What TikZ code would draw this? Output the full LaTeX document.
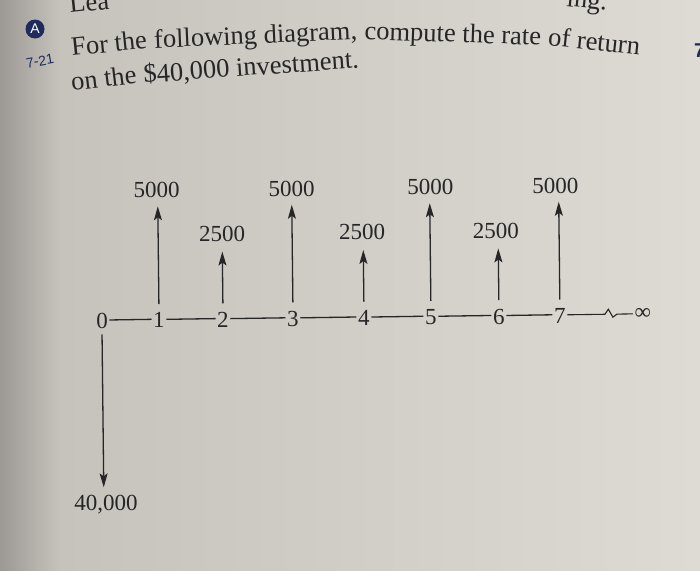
\documentclass[tikz,border=0pt]{standalone}
\usepackage{fontspec}
\setmainfont{Liberation Serif}
\setsansfont{Liberation Sans}
\usetikzlibrary{arrows.meta}
\definecolor{ink}{HTML}{262626}
\definecolor{navy}{HTML}{1E2B5C}
\definecolor{paperL}{HTML}{9C9994}
\definecolor{paperM}{HTML}{C6C2BC}
\definecolor{paperR}{HTML}{DEDAD4}
\tikzset{
  titletext/.style={font=\fontsize{26.5}{30}\selectfont, text=ink, inner sep=0pt, anchor=base west},
  dig/.style={font=\fontsize{23}{26}\selectfont, text=ink, inner sep=1.5pt},
  amt/.style={font=\fontsize{23}{26}\selectfont, text=ink, inner sep=0pt},
  flow/.style={draw=ink, line width=1.3pt, -{Stealth[length=14pt,width=8pt,inset=3pt]}, shorten <=7pt, shorten >=8pt},
  axisline/.style={draw=ink, line width=1.3pt},
}
\begin{document}
\begin{tikzpicture}[x=1pt,y=-1pt]
\useasboundingbox (0,0) rectangle (700,570);
\clip (0,0) rectangle (700,570);
% page background
\shade[left color=paperL, right color=paperM] (0,0) rectangle (60,570);
\shade[left color=paperM, right color=paperR] (60,0) rectangle (700,570);

% cut-off text at the top
\node[titletext, rotate=6] (t0) at (70,13) {Lea};
\node[titletext, rotate=-6] (t0b) at (566,6) {ing.};
\node[font=\sffamily\bfseries\fontsize{20}{24}\selectfont, text=navy, anchor=base west, inner sep=0pt] (pn) at (694,57) {7};

% badge and problem number
\node[circle, fill=navy, text=white, minimum size=19pt, inner sep=0pt, font=\sffamily\fontsize{14}{14}\selectfont] (badge) at (35,29) {A};
\node[text=navy, font=\sffamily\fontsize{14}{14}\selectfont, rotate=10, inner sep=0pt] (prob) at (40,61) {7-21};

% problem statement
\node[titletext, rotate=6] (t1) at (72,56) {For the};
\node[titletext, rotate=2.5] (t2) at ([xshift=6.5pt]t1.base east) {following diagram,};
\node[titletext, rotate=-2] (t3) at ([xshift=6.5pt]t2.base east) {compute the rate};
\node[titletext, rotate=-6] (t4) at ([xshift=6.5pt]t3.base east) {of return};
\node[titletext, rotate=7] (t5) at (72,91) {on the};
\node[titletext, rotate=4] (t6) at ([xshift=6.5pt]t5.base east) {\$40,000 investment.};

% cash-flow diagram
\begin{scope}[rotate around={0.65:(102,321)}]
  \node[dig] (n0) at (102,321) {0};
  \node[dig] (n1) at (159,321) {1};
  \node[dig] (n2) at (223,321) {2};
  \node[dig] (n3) at (293,321) {3};
  \node[dig] (n4) at (364,321) {4};
  \node[dig] (n5) at (431,321) {5};
  \node[dig] (n6) at (499,321) {6};
  \node[dig] (n7) at (560,321) {7};
  \node[dig] (ninf) at (643,320) {∞};
  \coordinate (w1) at (605,320);
  \coordinate (w2) at (608.5,315);
  \coordinate (w3) at (613,323);
  \coordinate (w4) at (617,320);

  \draw[axisline] ([yshift=1pt]n0.east) -- ([yshift=1pt]n1.west);
  \draw[axisline] ([yshift=1pt]n1.east) -- ([yshift=1pt]n2.west);
  \draw[axisline] ([yshift=1pt]n2.east) -- ([yshift=1pt]n3.west);
  \draw[axisline] ([yshift=1pt]n3.east) -- ([yshift=1pt]n4.west);
  \draw[axisline] ([yshift=1pt]n4.east) -- ([yshift=1pt]n5.west);
  \draw[axisline] ([yshift=1pt]n5.east) -- ([yshift=1pt]n6.west);
  \draw[axisline] ([yshift=1pt]n6.east) -- ([yshift=1pt]n7.west);
  \draw[axisline, line width=1.1pt, line join=miter] ([yshift=1pt]n7.east) -- (w1) -- (w2) -- (w3) -- (w4) -- (ninf.west);

  \node[amt] (a1) at (158,191) {5000};
  \node[amt] (a3) at (293,191) {5000};
  \node[amt] (a5) at (432,191) {5000};
  \node[amt] (a7) at (557,191) {5000};
  \node[amt] (b2) at (223,235) {2500};
  \node[amt] (b4) at (363,235) {2500};
  \node[amt] (b6) at (497,235) {2500};
  \node[amt] (L40) at (104,505) {40,000};

  \draw[flow] (n1.north) -- (n1.north |- a1.south);
  \draw[flow] (n3.north) -- (n3.north |- a3.south);
  \draw[flow] (n5.north) -- (n5.north |- a5.south);
  \draw[flow] (n7.north) -- (n7.north |- a7.south);
  \draw[flow, shorten >=10pt] (n2.north) -- (n2.north |- b2.south);
  \draw[flow, shorten >=10pt] (n4.north) -- (n4.north |- b4.south);
  \draw[flow, shorten >=10pt] (n6.north) -- (n6.north |- b6.south);
  \draw[flow, shorten <=4pt] (n0.south) -- (n0.south |- L40.north);
\end{scope}
\end{tikzpicture}
\end{document}
